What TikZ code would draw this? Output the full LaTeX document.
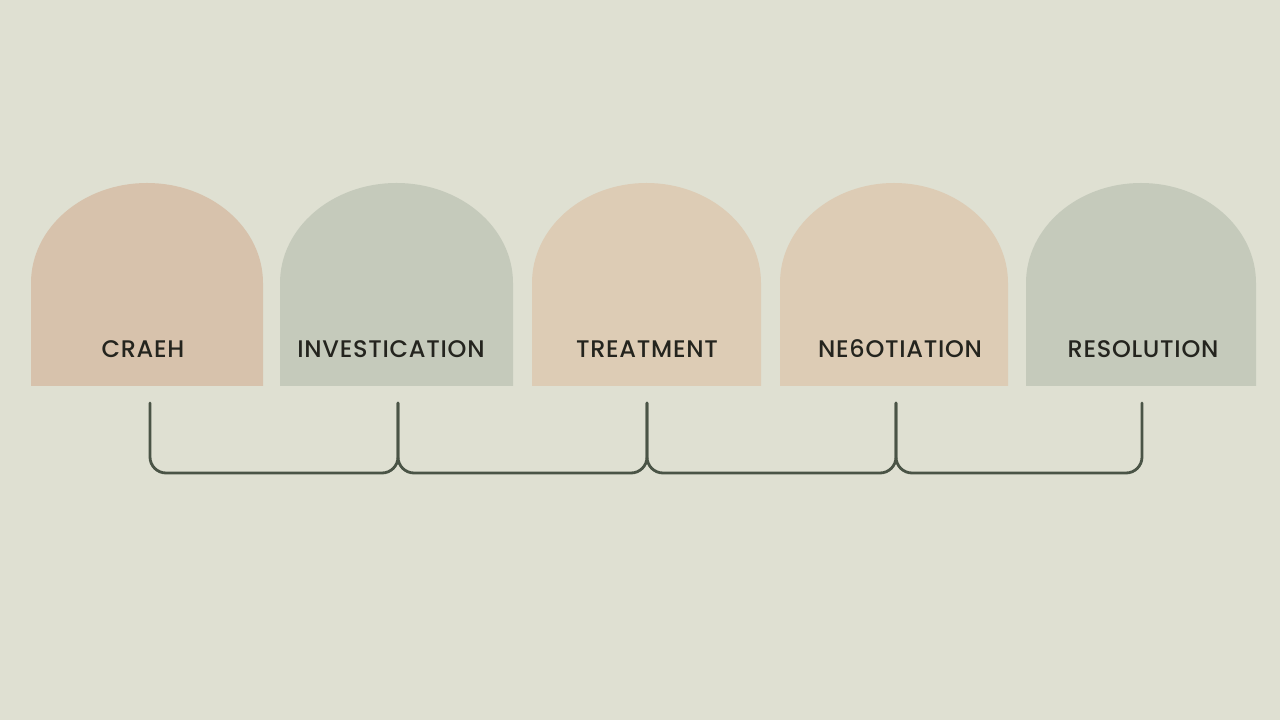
\documentclass[tikz,border=0pt]{standalone}
\usepackage{fontspec}
\newfontfamily\labfont{Poppins Medium}[LetterSpace=3]
\definecolor{bg}{RGB}{223,224,210}
\definecolor{peachA}{RGB}{215,194,172}
\definecolor{peachB}{RGB}{221,204,181}
\definecolor{sage}{RGB}{197,202,187}
\definecolor{labcol}{RGB}{36,36,30}
\definecolor{conncol}{RGB}{74,84,70}
\begin{document}
\begin{tikzpicture}[x=1pt,y=1pt,
  lab/.style={font=\labfont\fontsize{24}{27}\selectfont, text=labcol, anchor=center, inner sep=0pt},
  conn/.style={draw=conncol, line width=2.8pt, rounded corners=16pt, line cap=round}]
\fill[bg] (0,0) rectangle (1280,720);
\useasboundingbox (0,0) rectangle (1280,720);
\foreach \L/\R/\c/\n/\t/\tx in {31/263/peachA/a/CRAEH/143, 280/513/sage/b/INVESTICATION/391, 532/761/peachB/c/TREATMENT/647, 780/1008/peachB/d/NE6OTIATION/900, 1026/1256/sage/e/RESOLUTION/1143}{
  \pgfmathsetmacro\rx{(\R-\L)/2}
  \fill[\c] (\L,334) -- (\L,437) arc[start angle=180, end angle=0, x radius=\rx pt, y radius=100pt] -- (\R,334) -- cycle;
  \node[lab] (\n) at (\tx,371) {\t};
}
\coordinate (t1) at (150,317); \coordinate (h1) at (150,247);
\coordinate (t2) at (398,317); \coordinate (h2) at (398,247);
\coordinate (t3) at (647,317); \coordinate (h3) at (647,247);
\coordinate (t4) at (896,317); \coordinate (h4) at (896,247);
\coordinate (t5) at (1142,317); \coordinate (h5) at (1142,247);
\draw[conn] (t1) -- (h1) -- (h2) -- (t2);
\draw[conn] (t2) -- (h2) -- (h3) -- (t3);
\draw[conn] (t3) -- (h3) -- (h4) -- (t4);
\draw[conn] (t4) -- (h4) -- (h5) -- (t5);
\end{tikzpicture}
\end{document}
